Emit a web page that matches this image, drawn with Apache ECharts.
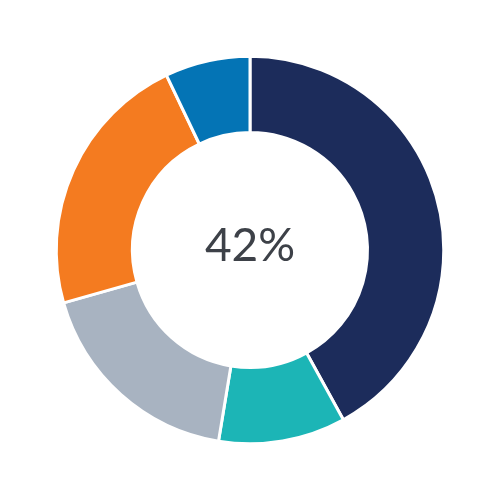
<!DOCTYPE html>
<html><head><meta charset="utf-8">
<script src="https://cdn.jsdelivr.net/npm/echarts@6/dist/echarts.min.js"></script>
<style>html,body{margin:0;padding:0;background:#fff}#c{width:500px;height:500px}</style>
</head><body><div id="c"></div>
<script>
const categories = ['A', 'B', 'C', 'D', 'E'];
const values = [42, 10.6, 18, 22.3, 7.1];
const colors = ['#1c2c5b', '#1cb5b6', '#a8b3c1', '#f47b20', '#0474b5'];
const centerLabel = '42%';

const chart = echarts.init(document.getElementById('c'));
chart.setOption({
  animation: false,
  graphic: [{
    type: 'text', left: 'center', top: 223,
    style: { text: centerLabel, fontSize: 46, fontFamily: 'Lato', fill: '#3d4148', fontWeight: 'normal' }
  }],
  series: [{
    type: 'pie',
    center: [250, 250],
    radius: ['47%', '77.5%'],
    startAngle: 90,
    clockwise: true,
    label: { show: false },
    labelLine: { show: false },
    itemStyle: { borderColor: '#fff', borderWidth: 3 },
    emphasis: { disabled: true },
    data: categories.map((c, i) => ({ name: c, value: values[i], itemStyle: { color: colors[i] } }))
  }]
});
</script></body></html>
